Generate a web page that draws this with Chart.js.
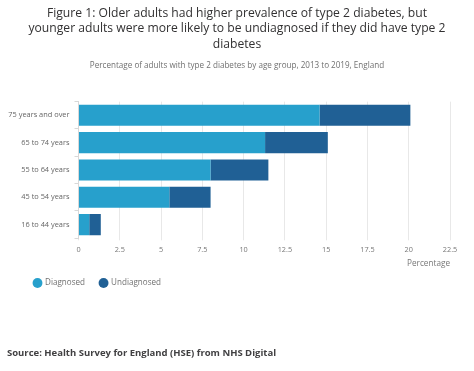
<!DOCTYPE html>
<html><head><meta charset="utf-8">
<script src="https://cdn.jsdelivr.net/npm/chart.js@4"></script>
<style>
html,body{margin:0;padding:0;background:#fff;}
#wrap{position:relative;width:474px;height:371px;}
#src{position:absolute;left:7px;top:346px;font:bold 9.5px "Open Sans",sans-serif;color:#414042;white-space:nowrap;}
</style></head>
<body>
<div id="wrap"><canvas id="c" width="474" height="371"></canvas>
<div id="src">Source: Health Survey for England (HSE) from NHS Digital</div></div>
<script>
const categories = ["75 years and over","65 to 74 years","55 to 64 years","45 to 54 years","16 to 44 years"];
const diagnosed = [14.6, 11.3, 8.0, 5.5, 0.65];
const undiagnosed = [5.5, 3.8, 3.5, 2.5, 0.7];
const seriesNames = ["Diagnosed","Undiagnosed"];
const titleLines = ["Figure 1: Older adults had higher prevalence of type 2 diabetes, but","younger adults were more likely to be undiagnosed if they did have type 2","diabetes"];
const subtitleText = "Percentage of adults with type 2 diabetes by age group, 2013 to 2019, England";
const xTitle = "Percentage";

const FONT = '"Open Sans", sans-serif';
const boxShift = {
  id: 'boxShift',
  afterLayout(chart) {
    const lg = chart.legend;
    if (lg) { lg.left += 14; lg.right += 14; lg.top -= 5; lg.bottom -= 5; }
    for (const b of [chart.titleBlock, chart.boxes.find(x => x !== chart.titleBlock && x.options && x.options.text === subtitleText)]) {
      if (b) { b.left += 9.5; b.right += 9.5; }
    }
  }
};
new Chart(document.getElementById('c'), {
  type: 'bar',
  data: {
    labels: categories,
    datasets: [
      {label: seriesNames[0], data: diagnosed, backgroundColor: '#27a0cc', borderWidth: 0},
      {label: seriesNames[1], data: undiagnosed, backgroundColor: '#206095', borderWidth: 0}
    ]
  },
  options: {
    indexAxis: 'y',
    responsive: false,
    animation: false,
    devicePixelRatio: 1,
    layout: {padding: {left: 5, right: 24, top: 4, bottom: 69}},
    datasets: {bar: {categoryPercentage: 1, barPercentage: 0.77}},
    scales: {
      x: {
        stacked: true, min: 0, max: 22.5,
        ticks: {stepSize: 2.5, color: '#777', font: {family: FONT, size: 7.3}, padding: 5},
        grid: {color: '#e8e8e8', drawTicks: true, tickLength: 2},
        border: {display: false},
        title: {display: true, text: xTitle, align: 'end', color: '#777', font: {family: FONT, size: 8.2}, padding: {top: 0, bottom: 0}}
      },
      y: {
        stacked: true,
        ticks: {color: '#666', font: {family: FONT, size: 7.4}, padding: 5},
        grid: {display: true, drawOnChartArea: false, offset: true, color: '#d8d8d8', tickLength: 4},
        border: {display: true, color: '#d8d8d8'},
        afterFit: s => { s.width = 73.5; }
      }
    },
    plugins: {
      title: {display: true, text: titleLines, color: '#323132', font: {family: FONT, size: 12.15, weight: 'normal', lineHeight: 1.26}, padding: {top: 2, bottom: 9}},
      subtitle: {display: true, text: subtitleText, color: '#707070', font: {family: FONT, size: 8.1}, padding: {top: 0, bottom: 31}},
      legend: {position: 'bottom', align: 'start',
        labels: {usePointStyle: true, pointStyle: 'circle', boxWidth: 7, boxHeight: 7, padding: 15, color: '#707070', font: {family: FONT, size: 8.1}}},
      tooltip: {enabled: false}
    }
  },
  plugins: [boxShift]
});
</script>
</body></html>
